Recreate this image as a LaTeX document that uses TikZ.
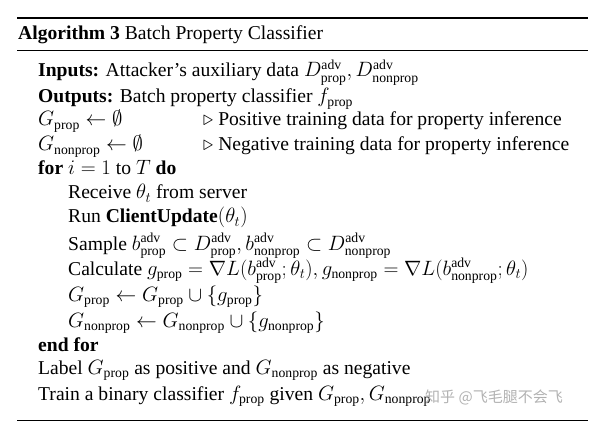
\documentclass[tikz,border=0pt]{standalone}
\usepackage{amsmath,amssymb}
\usepackage{fontspec}
\setmainfont{Liberation Serif}
\newfontfamily\cjk{Noto Sans CJK SC}
\newcommand{\adv}{\mathrm{adv}}
\newcommand{\pr}{\mathrm{prop}}
\newcommand{\np}{\mathrm{nonprop}}
\begin{document}
\begin{tikzpicture}[x=1pt,y=1pt,
  ln/.style={anchor=base west,inner sep=0pt,font=\fontsize{19.6}{23}\selectfont}]
\useasboundingbox (0,0) rectangle (600,421);
\draw[line width=1.2pt] (17,403) -- (588,403);
\draw[line width=0.6pt] (17,371) -- (588,371);
\draw[line width=0.6pt] (17,1) -- (588,1);
\node[ln] (t) at (18,381) {\textbf{Algorithm 3} Batch Property Classifier};
\node[ln] (l1) at (38,344) {\textbf{Inputs:} Attacker's auxiliary data $D^{\adv}_{\pr}, D^{\adv}_{\np}$};
\node[ln] (l2) at (38,318) {\textbf{Outputs:} Batch property classifier $f_{\pr}$};
\node[ln] (l3) at (38,295) {$G_{\pr}\leftarrow\emptyset$};
\node[ln] (c3) at (203,295) {$\triangleright$ Positive training data for property inference};
\node[ln] (l4) at (38,270) {$G_{\np}\leftarrow\emptyset$};
\node[ln] (c4) at (203,270) {$\triangleright$ Negative training data for property inference};
\node[ln] (l5) at (38,246) {\textbf{for} $i=1$ to $T$ \textbf{do}};
\node[ln] (l6) at (68,222) {Receive $\theta_t$ from server};
\node[ln] (l7) at (68,198) {Run \textbf{ClientUpdate}$(\theta_t)$};
\node[ln] (l8) at (68,171) {Sample $b^{\adv}_{\pr}\subset D^{\adv}_{\pr}, b^{\adv}_{\np}\subset D^{\adv}_{\np}$};
\node[ln] (l9) at (68,146) {Calculate $g_{\pr}=\nabla L(b^{\adv}_{\pr};\theta_t), g_{\np}=\nabla L(b^{\adv}_{\np};\theta_t)$};
\node[ln] (l10) at (68,120) {$G_{\pr}\leftarrow G_{\pr}\cup\{g_{\pr}\}$};
\node[ln] (l11) at (68,94) {$G_{\np}\leftarrow G_{\np}\cup\{g_{\np}\}$};
\node[ln] (l12) at (38,70) {\textbf{end for}};
\node[ln] (l13) at (38,47) {Label $G_{\pr}$ as positive and $G_{\np}$ as negative};
\node[ln] (l14) at (38,21) {Train a binary classifier $f_{\pr}$ given $G_{\pr}, G_{\np}$};
\node[anchor=base west,inner sep=0pt,text=gray!60,font=\cjk\fontsize{15}{18}\selectfont] (wm) at (425,19) {知乎 @飞毛腿不会飞};
\end{tikzpicture}
\end{document}
